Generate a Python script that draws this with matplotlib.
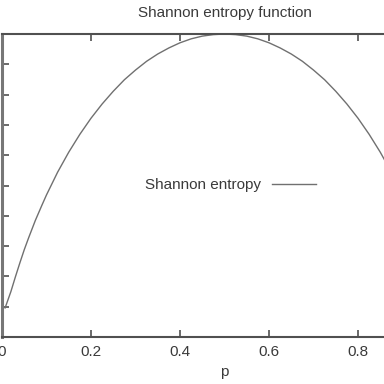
import matplotlib
matplotlib.use("Agg")
import matplotlib.pyplot as plt

# Values (p, entropy in bits)
p_vals = [0.007, 0.02, 0.03, 0.04, 0.05, 0.06, 0.075, 0.09, 0.1, 0.125,
          0.15, 0.175, 0.2, 0.225, 0.25, 0.275, 0.3, 0.325, 0.35, 0.375, 0.4,
          0.425, 0.45, 0.475, 0.5, 0.525, 0.55, 0.575, 0.6, 0.625, 0.65, 0.675,
          0.7, 0.725, 0.75, 0.775, 0.8, 0.825, 0.85, 0.875, 0.9, 0.925, 0.95,
          0.97, 0.98, 0.99]
h_vals = [0.096, 0.150, 0.198, 0.244, 0.288, 0.328, 0.385, 0.436, 0.469,
          0.544, 0.610, 0.669, 0.722, 0.769, 0.811, 0.849, 0.881, 0.910, 0.934,
          0.954, 0.971, 0.984, 0.993, 0.998, 1.000, 0.998, 0.993, 0.984, 0.971,
          0.954, 0.934, 0.910, 0.881, 0.849, 0.811, 0.769, 0.722, 0.669, 0.610,
          0.544, 0.469, 0.384, 0.286, 0.194, 0.141, 0.081]
x_ticks = [0, 0.2, 0.4, 0.6, 0.8, 1.0]
x_tick_labels = ["0", "0.2", "0.4", "0.6", "0.8", ""]
y_ticks = [0, 0.1, 0.2, 0.3, 0.4, 0.5, 0.6, 0.7, 0.8, 0.9, 1.0]

plt.rcParams['font.family'] = ['Liberation Sans', 'DejaVu Sans']
txt = '#3a3a3a'

fig = plt.figure(figsize=(3.84, 3.84), dpi=100)
W = H = 384.0
left, right, top, bottom = 2, 447, 34, 337
ax = fig.add_axes([left / W, 1 - bottom / H, (right - left) / W, (bottom - top) / H])

ax.plot(p_vals, h_vals, color='#707070', lw=1.0, label='Shannon entropy')
ax.set_xlim(0, 1)
ax.set_ylim(0, 1)
ax.set_xticks(x_ticks)
ax.set_xticklabels(x_tick_labels)
ax.set_yticks(y_ticks)
ax.set_yticklabels([])
ax.tick_params(direction='in', top=True, right=True, length=5, width=1.2,
               color='#505050', labelsize=11, labelcolor=txt, pad=6)
for s in ax.spines.values():
    s.set_color('#505050')
    s.set_linewidth(1.5)
ax.spines['left'].set_color('#777777')
ax.spines['left'].set_linewidth(2.2)

ax.set_title('Shannon entropy function', fontsize=11, color=txt, pad=12)
ax.set_xlabel('p', fontsize=11, color=txt, labelpad=4)

fig.legend(loc='center right', bbox_to_anchor=(316 / W, 1 - 185 / H),
           frameon=False, markerfirst=False, handlelength=2.9,
           handletextpad=0.7, borderpad=0, borderaxespad=0,
           fontsize=11, labelcolor=txt)

fig.savefig('out.png', dpi=100)
